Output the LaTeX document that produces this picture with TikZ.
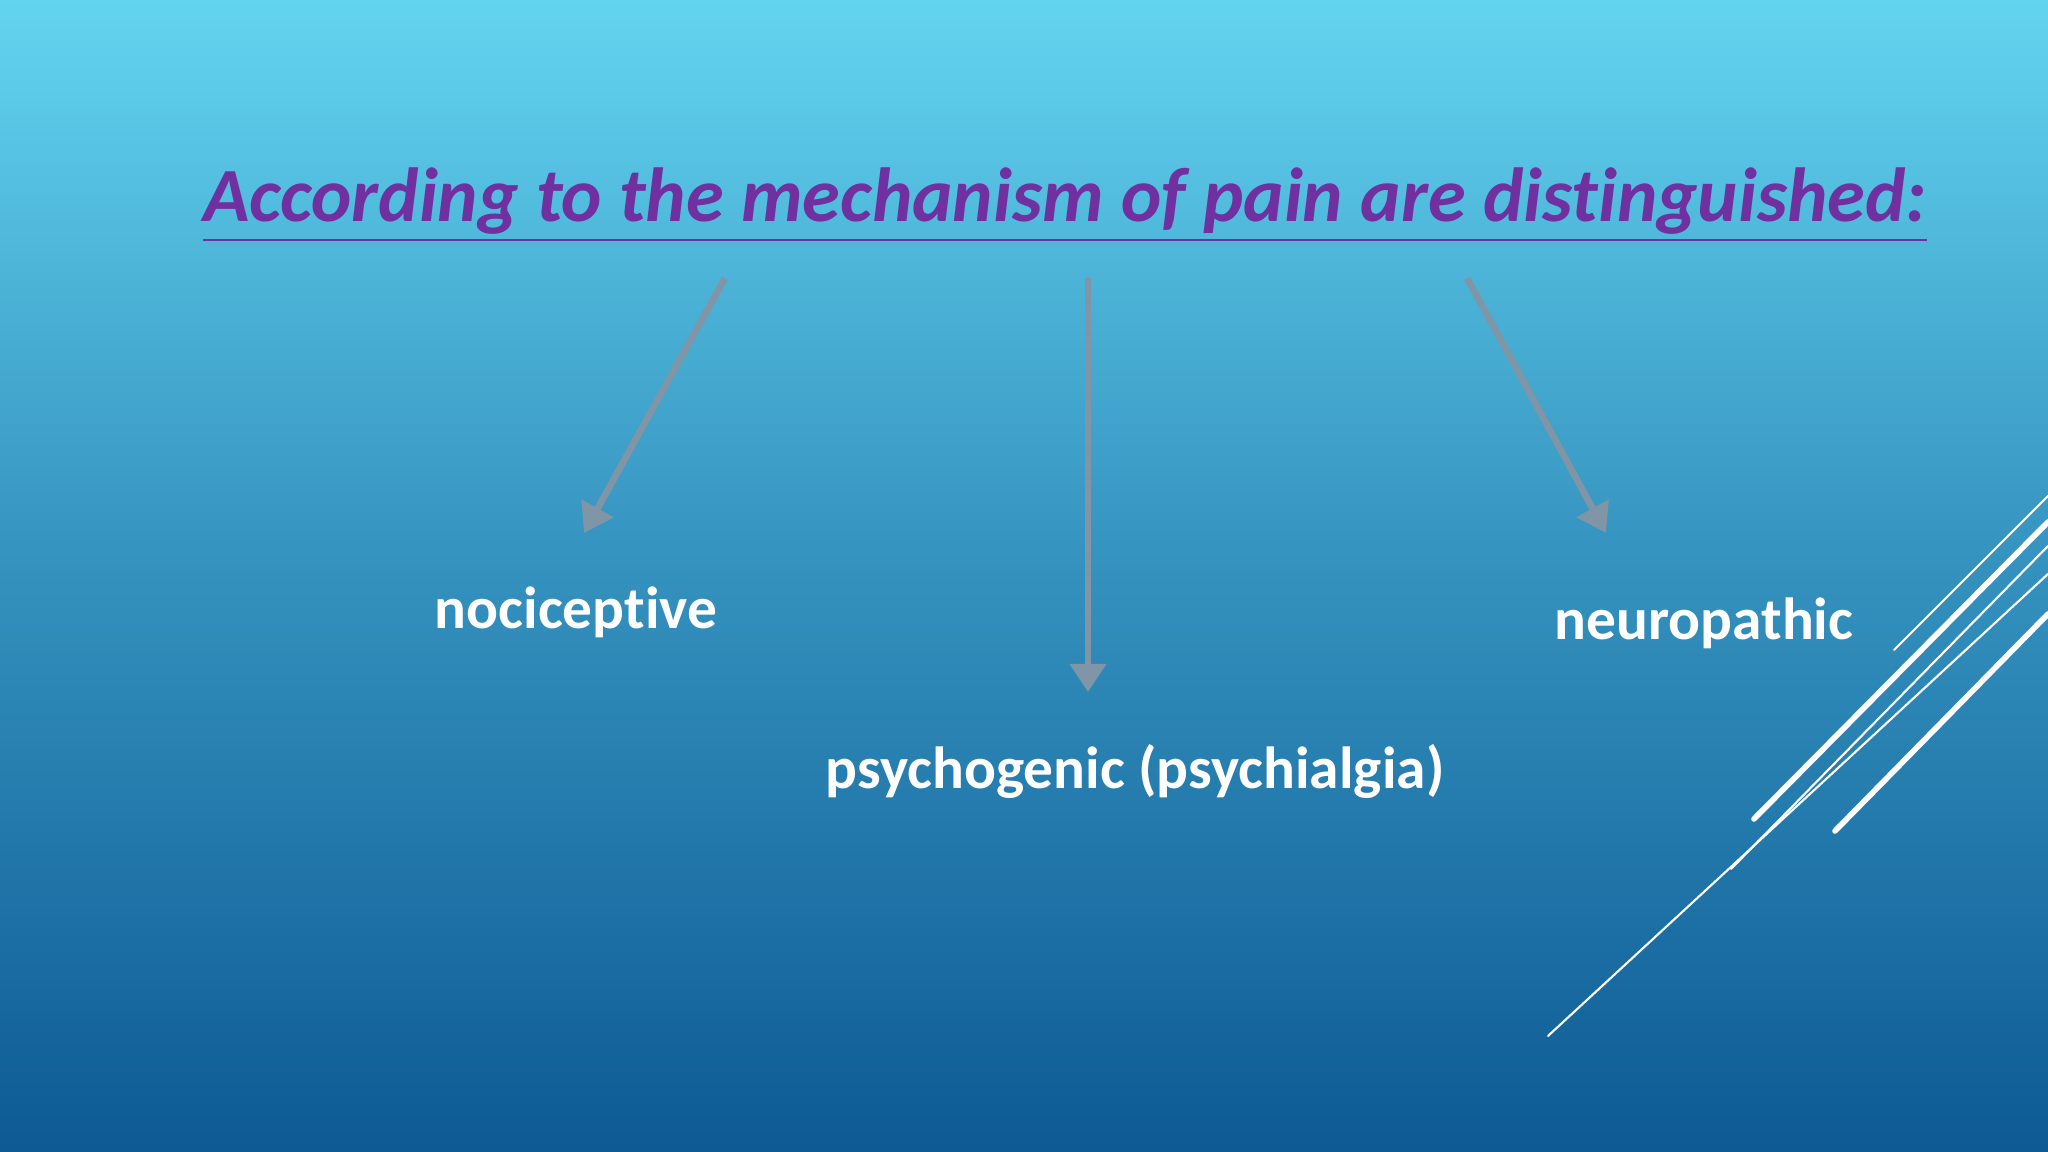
\documentclass[tikz,border=0pt]{standalone}
\usepackage{fontspec}
\setmainfont{Carlito}[Ligatures=NoCommon]
\usetikzlibrary{arrows.meta}
\definecolor{bgtop}{HTML}{63D4F0}
\definecolor{bgbot}{HTML}{0D5A94}
\definecolor{ttl}{HTML}{7030A0}
\definecolor{arr}{HTML}{8095A6}
\tikzset{
  lbl/.style={text=white,font=\bfseries\fontsize{16.9}{20}\selectfont,inner sep=0pt},
  conn/.style={draw=arr,line width=1.9pt,-{Triangle[length=8pt,width=10pt]}},
  deco/.style={white,line cap=round}
}
\begin{document}
\begin{tikzpicture}[x=1cm,y=1cm]
\shade[top color=bgtop,bottom color=bgbot,middle color=bgtop!45!bgbot] (0,0) rectangle (20.48,11.52);
\useasboundingbox (0,0) rectangle (20.48,11.52);
\node[text=ttl,font=\bfseries\itshape\fontsize{21.8}{26}\selectfont,inner sep=0pt,anchor=base] (title) at (10.65,9.30) {\underline{According to the mechanism of pain are distinguished:}};
\node[lbl] (noc) at (5.76,5.40) {nociceptive};
\node[lbl] (psy) at (11.35,3.80) {psychogenic (psychialgia)};
\node[lbl] (neu) at (17.04,5.29) {neuropathic};
\coordinate (a1) at (7.25,8.74); \coordinate (b1) at (5.84,6.19);
\coordinate (a2) at (10.88,8.74); \coordinate (b2) at (10.88,4.60);
\coordinate (a3) at (14.67,8.74); \coordinate (b3) at (16.06,6.19);
\draw[conn] (a1) -- (b1);
\draw[conn] (a2) -- (b2);
\draw[conn] (a3) -- (b3);
\draw[deco,line width=0.6pt] (20.48,6.56) -- (18.94,5.02);
\draw[deco,line width=1.6pt] (20.48,6.30) -- (17.54,3.33);
\draw[deco,line width=0.6pt] (20.48,6.06) -- (17.31,2.83);
\draw[deco,line width=1.6pt] (20.48,5.38) -- (18.35,3.21);
\draw[deco,line width=0.6pt] (20.48,5.78) -- (15.48,1.16);
\end{tikzpicture}
\end{document}
